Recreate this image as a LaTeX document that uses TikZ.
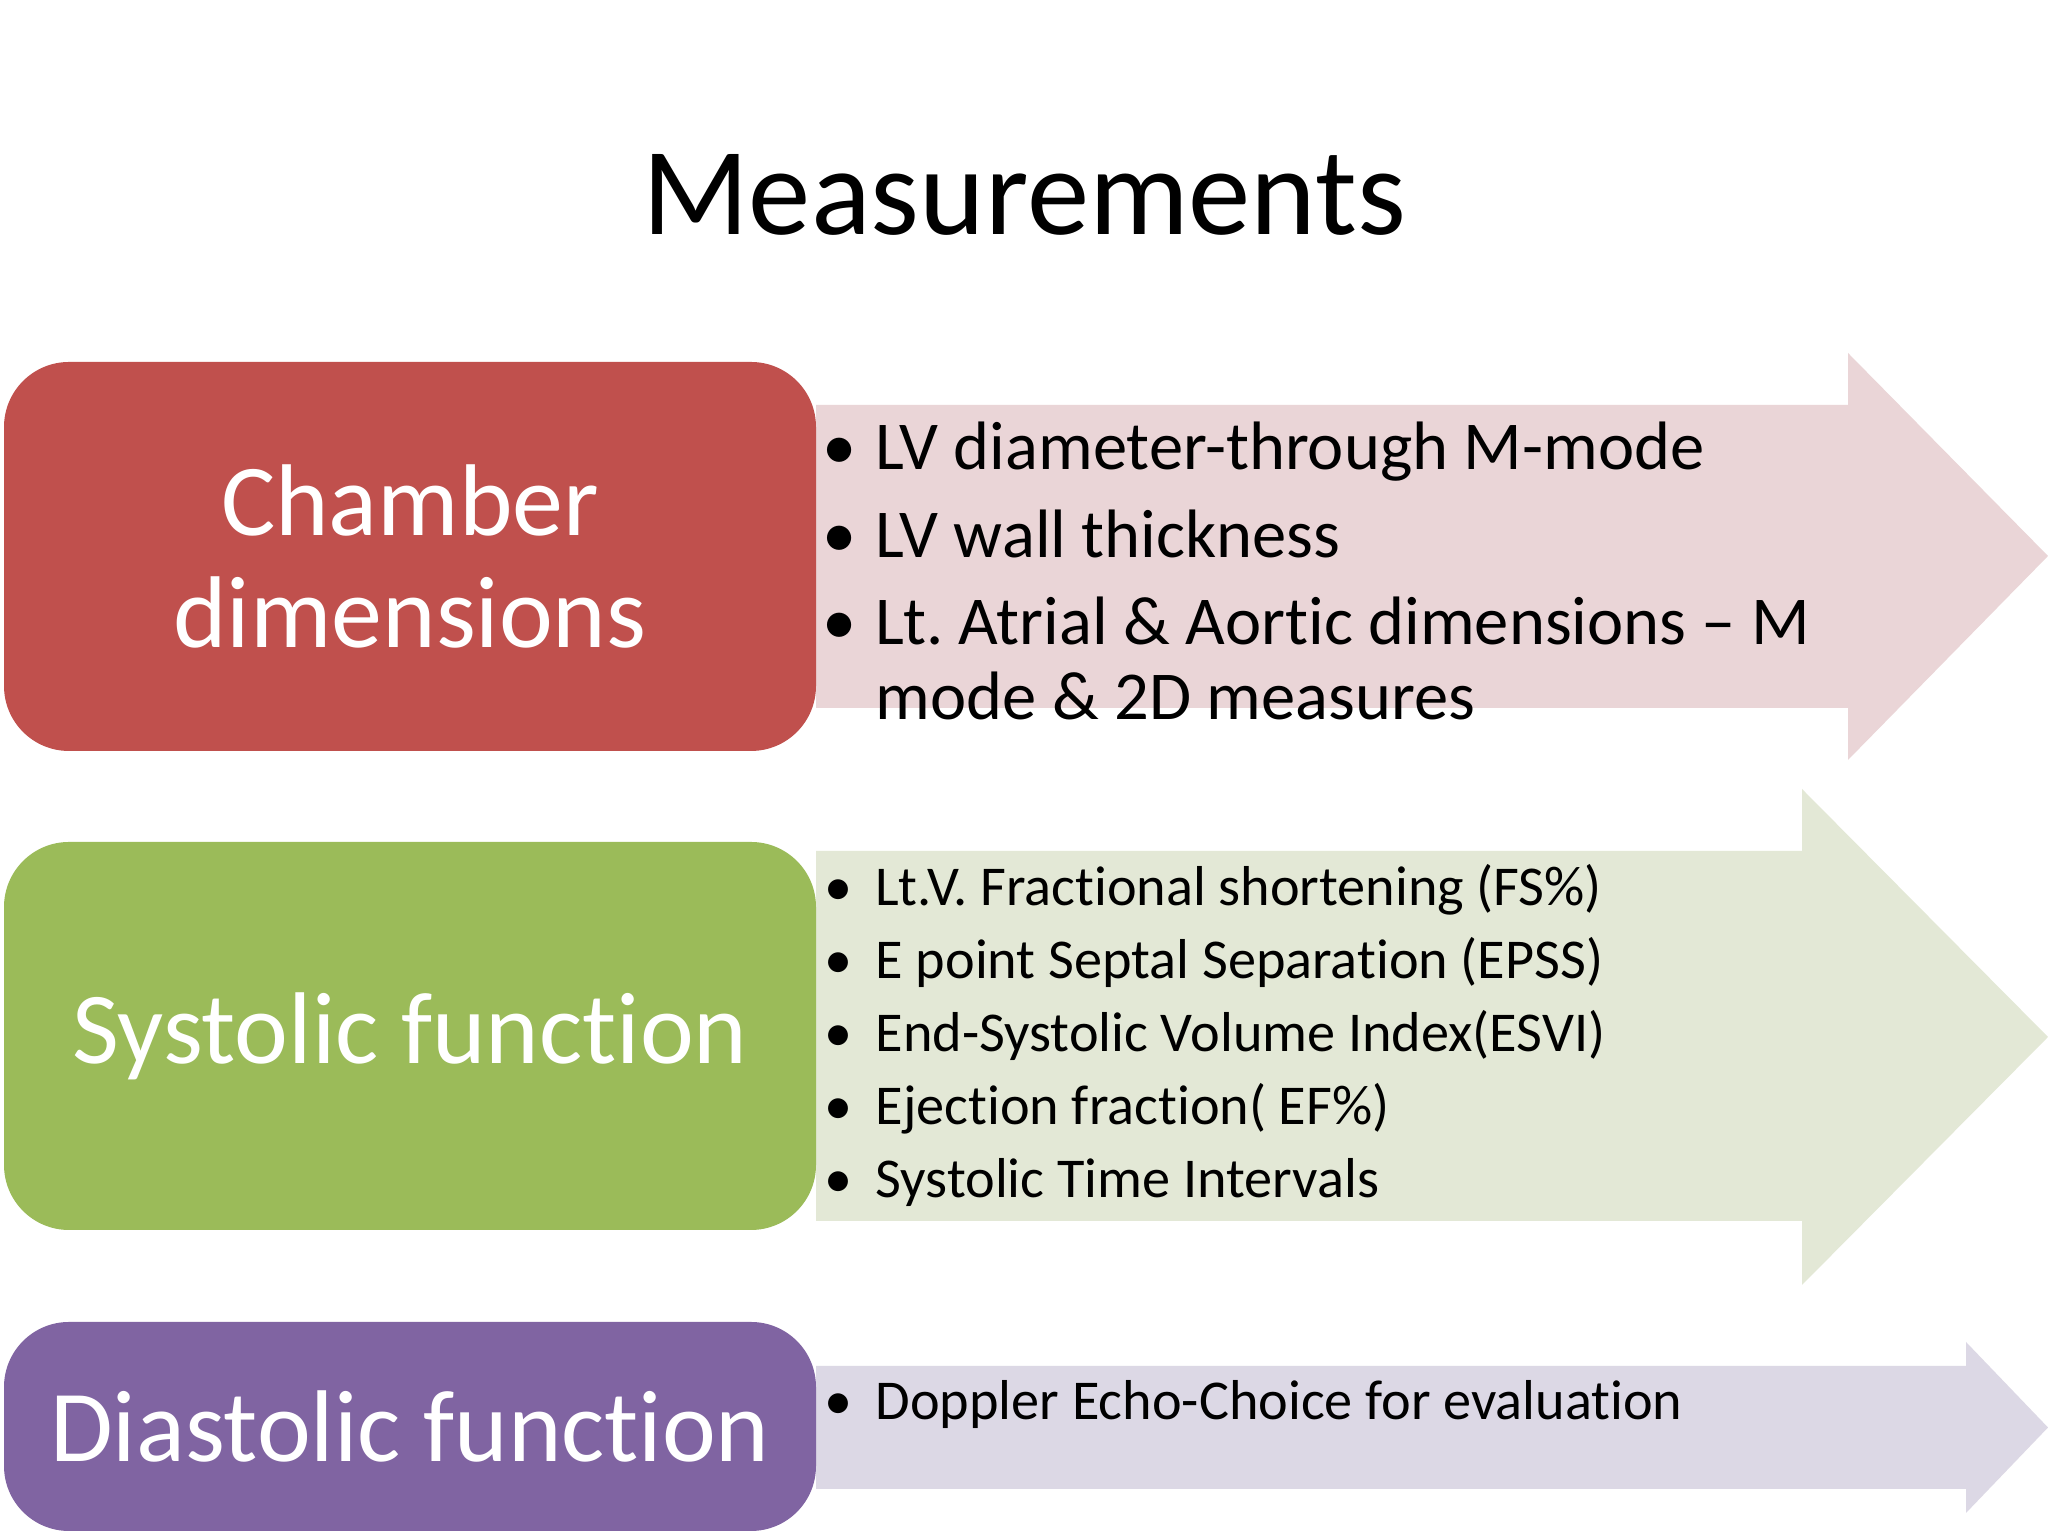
\documentclass[tikz,border=0pt]{standalone}
\usepackage{fontspec}
\setmainfont{Carlito}[Ligatures={NoCommon,NoContextual}]
\frenchspacing
\definecolor{chred}{HTML}{C0504D}
\definecolor{chredlt}{HTML}{EAD5D7}
\definecolor{sygreen}{HTML}{9BBB59}
\definecolor{sygreenlt}{HTML}{E3E8D6}
\definecolor{dipurple}{HTML}{8064A2}
\definecolor{dipurplelt}{HTML}{DCD8E5}
\tikzset{
  catbox/.style={rounded corners=0.65cm,minimum width=8.12cm,inner sep=0pt,align=center,
    text=white,font=\fontsize{29}{32}\selectfont},
  bigdot/.style={anchor=base,inner sep=0pt},
  bigitem/.style={anchor=base west,inner sep=0pt,font=\fontsize{19.5}{22}\selectfont},
  smallitem/.style={anchor=base west,inner sep=0pt,font=\fontsize{16}{19}\selectfont}
}

\begin{document}
\begin{tikzpicture}
  \useasboundingbox[fill=white] (0,0) rectangle (20.48,15.36);

  \node[font=\fontsize{35.5}{40}\selectfont,anchor=base] (title) at (10.24,13.01) {Measurements};

  % arrows behind the boxes
  \fill[chredlt] (8.16,11.31) -- (18.48,11.31) -- (18.48,11.83) -- (20.48,9.80) -- (18.48,7.76) -- (18.48,8.28) -- (8.16,8.28) -- cycle;
  \fill[sygreenlt] (8.16,6.85) -- (18.02,6.85) -- (18.02,7.47) -- (20.48,4.99) -- (18.02,2.51) -- (18.02,3.15) -- (8.16,3.15) -- cycle;
  \fill[dipurplelt] (8.16,1.70) -- (19.66,1.70) -- (19.66,1.94) -- (20.48,1.085) -- (19.66,0.23) -- (19.66,0.47) -- (8.16,0.47) -- cycle;

  % category boxes
  \node[catbox,fill=chred,minimum height=3.89cm] (chamber) at (4.10,9.795) {Chamber\\dimensions};
  \node[catbox,fill=sygreen,minimum height=3.88cm] (systolic) at (4.10,5.0) {Systolic function};
  \node[catbox,fill=dipurple,minimum height=2.09cm] (diastolic) at (4.10,1.095) {Diastolic function};

  % chamber items
  \node[bigdot,font=\fontsize{19.5}{22}\selectfont] (cd1) at (8.40,10.66) {•};
  \node[bigitem] (ci1) at (8.75,10.66) {LV diameter-through M-mode};
  \node[bigdot,font=\fontsize{19.5}{22}\selectfont] (cd2) at (8.40,9.78) {•};
  \node[bigitem] (ci2) at (8.75,9.78) {LV wall thickness};
  \node[bigdot,font=\fontsize{19.5}{22}\selectfont] (cd3) at (8.40,8.91) {•};
  \node[bigitem] (ci3) at (8.75,8.91) {Lt. Atrial \& Aortic dimensions – M};
  \node[bigitem] (ci3b) at (8.75,8.16) {mode \& 2D measures};

  % systolic items
  \node[bigdot,font=\fontsize{16}{19}\selectfont] (sd1) at (8.38,6.30) {•};
  \node[smallitem] (si1) at (8.75,6.30) {Lt.V. Fractional shortening (FS\%)};
  \node[bigdot,font=\fontsize{16}{19}\selectfont] (sd2) at (8.38,5.57) {•};
  \node[smallitem] (si2) at (8.75,5.57) {E point Septal Separation (EPSS)};
  \node[bigdot,font=\fontsize{16}{19}\selectfont] (sd3) at (8.38,4.84) {•};
  \node[smallitem] (si3) at (8.75,4.84) {End-Systolic Volume Index(ESVI)};
  \node[bigdot,font=\fontsize{16}{19}\selectfont] (sd4) at (8.38,4.11) {•};
  \node[smallitem] (si4) at (8.75,4.11) {Ejection fraction( EF\%)};
  \node[bigdot,font=\fontsize{16}{19}\selectfont] (sd5) at (8.38,3.38) {•};
  \node[smallitem] (si5) at (8.75,3.38) {Systolic Time Intervals};

  % diastolic item
  \node[bigdot,font=\fontsize{16}{19}\selectfont] (dd1) at (8.38,1.16) {•};
  \node[smallitem] (di1) at (8.75,1.16) {Doppler Echo-Choice for evaluation};
\end{tikzpicture}
\end{document}
